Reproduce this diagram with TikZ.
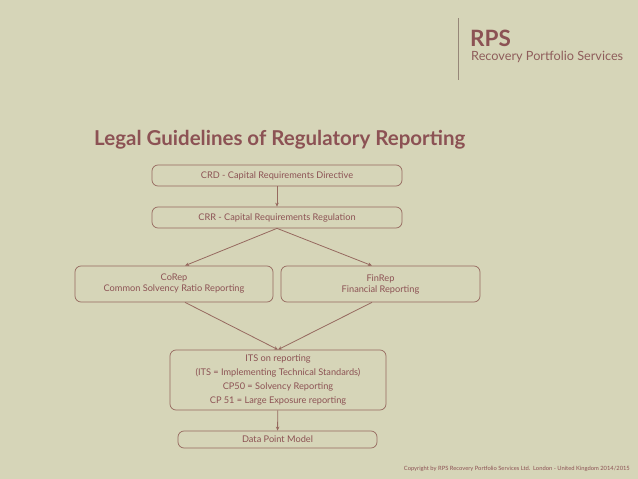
\documentclass[tikz,border=0pt]{standalone}
\usepackage{fontspec}
\setmainfont{Lato}
\usetikzlibrary{arrows.meta}
\definecolor{bg}{RGB}{214,213,184}
\definecolor{mar}{RGB}{140,82,84}
\definecolor{edge}{RGB}{150,105,95}
\definecolor{gr}{RGB}{150,135,120}
\tikzset{x=1pt,y=-1pt,
 box/.style={draw=edge,rounded corners=6pt,line width=0.7pt,text=mar,font=\fontsize{9.2}{11}\selectfont,align=center,inner sep=0pt},
 conn/.style={draw=edge,line width=0.8pt,-{Stealth[length=4pt,width=3.5pt]}}}
\begin{document}
\begin{tikzpicture}
\fill[bg] (0,0) rectangle (638,479);
\useasboundingbox (0,0) rectangle (638,479);
\draw[gr,line width=0.8pt] (458,18) -- (458,80);
\node[anchor=west,text=mar,font=\fontsize{22.5}{24}\selectfont\bfseries,inner sep=0] (rps) at (470,38) {RPS};
\node[anchor=west,text=mar!80!gr,font=\fontsize{12.7}{14}\selectfont,inner sep=0] (rps2) at (471,57) {Recovery Portfolio Services};
\node[anchor=west,text=mar,font=\fontsize{20.5}{22}\selectfont\bfseries,inner sep=0] (title) at (94,140) {Legal Guidelines of Regulatory Reporting};
\node[box,minimum width=250pt,minimum height=21pt] (crd) at (277,175.5) {CRD - Capital Requirements Directive};
\node[box,minimum width=250pt,minimum height=21pt] (crr) at (277,217.5) {CRR - Capital Requirements Regulation};
\node[box,minimum width=198pt,minimum height=36pt] (corep) at (174,284) {CoRep\\Common Solvency Ratio Reporting};
\node[box,minimum width=199pt,minimum height=36pt] (finrep) at (380.5,284) {FinRep\\Financial Reporting};
\node[box,minimum width=216pt,minimum height=60pt,font=\fontsize{9.2}{14}\selectfont] (its) at (278,380) {ITS on reporting\\(ITS = Implementing Technical Standards)\\CP50 = Solvency Reporting\\CP 51 = Large Exposure reporting};
\node[box,minimum width=199pt,minimum height=17pt] (dpm) at (277.5,439.5) {Data Point Model};
\draw[conn] (crd) -- (crr);
\draw[conn] (crr.south) -- (corep.north -| 185,0);
\draw[conn] (crr.south) -- (finrep.north -| 372,0);
\draw[conn] (corep.south -| 185,0) -- (its.north);
\draw[conn] (finrep.south -| 372,0) -- (its.north);
\draw[conn] (its) -- (dpm);
\node[anchor=east,text=mar,font=\fontsize{5.8}{6}\selectfont,inner sep=0] (copy) at (630,469) {Copyright by RPS Recovery Portfolio Services Ltd.\ \ London - United Kingdom 2014/2015};
\end{tikzpicture}
\end{document}
